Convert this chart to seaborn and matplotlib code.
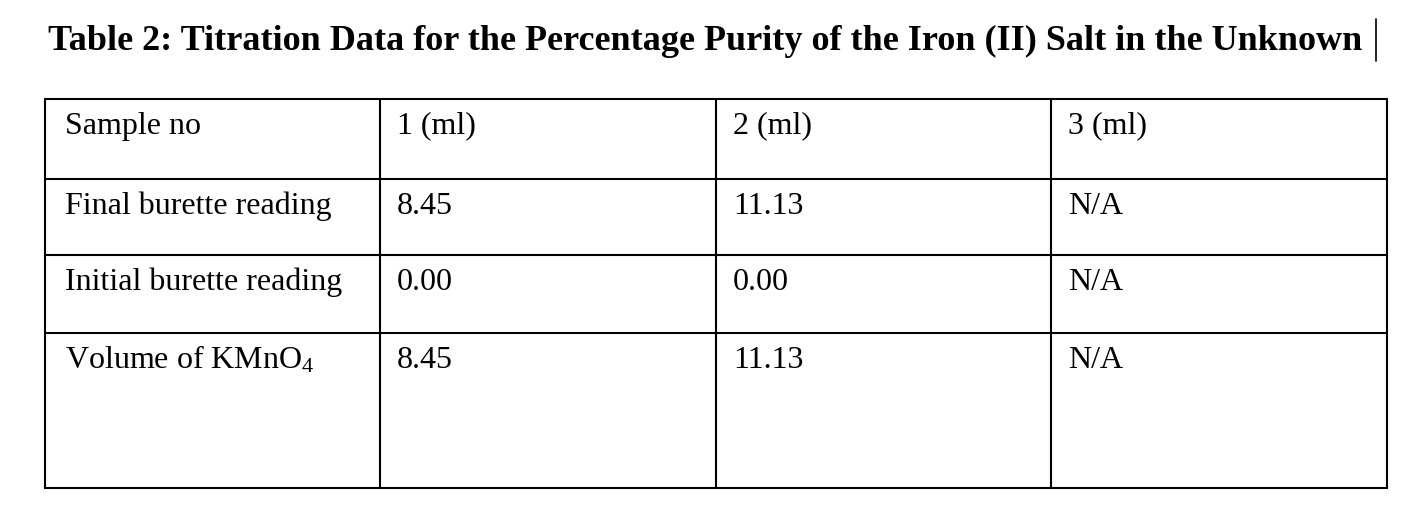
import matplotlib
matplotlib.use("Agg")
import matplotlib.pyplot as plt
import seaborn as sns

title = "Table 2: Titration Data for the Percentage Purity of the Iron (II) Salt in the Unknown"
header = ["Sample no", "1 (ml)", "2 (ml)", "3 (ml)"]
row_labels = ["Final burette reading", "Initial burette reading", "Volume of KMnO$_4$"]
sample1 = ["8.45", "0.00", "8.45"]
sample2 = ["11.13", "0.00", "11.13"]
sample3 = ["N/A", "N/A", "N/A"]

sns.set_theme(style="white")
plt.rcParams['font.family'] = ['Liberation Serif', 'DejaVu Serif']
plt.rcParams['mathtext.fontset'] = 'custom'
plt.rcParams['mathtext.rm'] = 'Liberation Serif'
plt.rcParams['mathtext.it'] = 'Liberation Serif'

W, H = 1416, 506
fig = plt.figure(figsize=(W / 100, H / 100), dpi=100)
ax = fig.add_axes([0, 0, 1, 1])
ax.set_xlim(0, W)
ax.set_ylim(H, 0)
ax.axis("off")

ax.text(48, 41, title, fontsize=26, fontweight="bold", va="center", ha="left", color="black")
ax.plot([1376, 1376], [20, 62], color="black", lw=1.2)

xs = [45, 380, 716, 1051, 1387]
ys = [100, 180, 256, 334, 489]
for x in xs:
    ax.plot([x, x], [ys[0], ys[-1]], color="black", lw=1.5)
for y in ys:
    ax.plot([xs[0], xs[-1]], [y, y], color="black", lw=1.5)

rows = [header] + [[row_labels[i], sample1[i], sample2[i], sample3[i]] for i in range(3)]
pads = [20, 17, 17, 17]
for r, row in enumerate(rows):
    for c, txt in enumerate(row):
        ax.text(xs[c] + pads[c], ys[r] + 26, txt, fontsize=23, va="center", ha="left", color="black")

fig.savefig("out.png", dpi=100)
